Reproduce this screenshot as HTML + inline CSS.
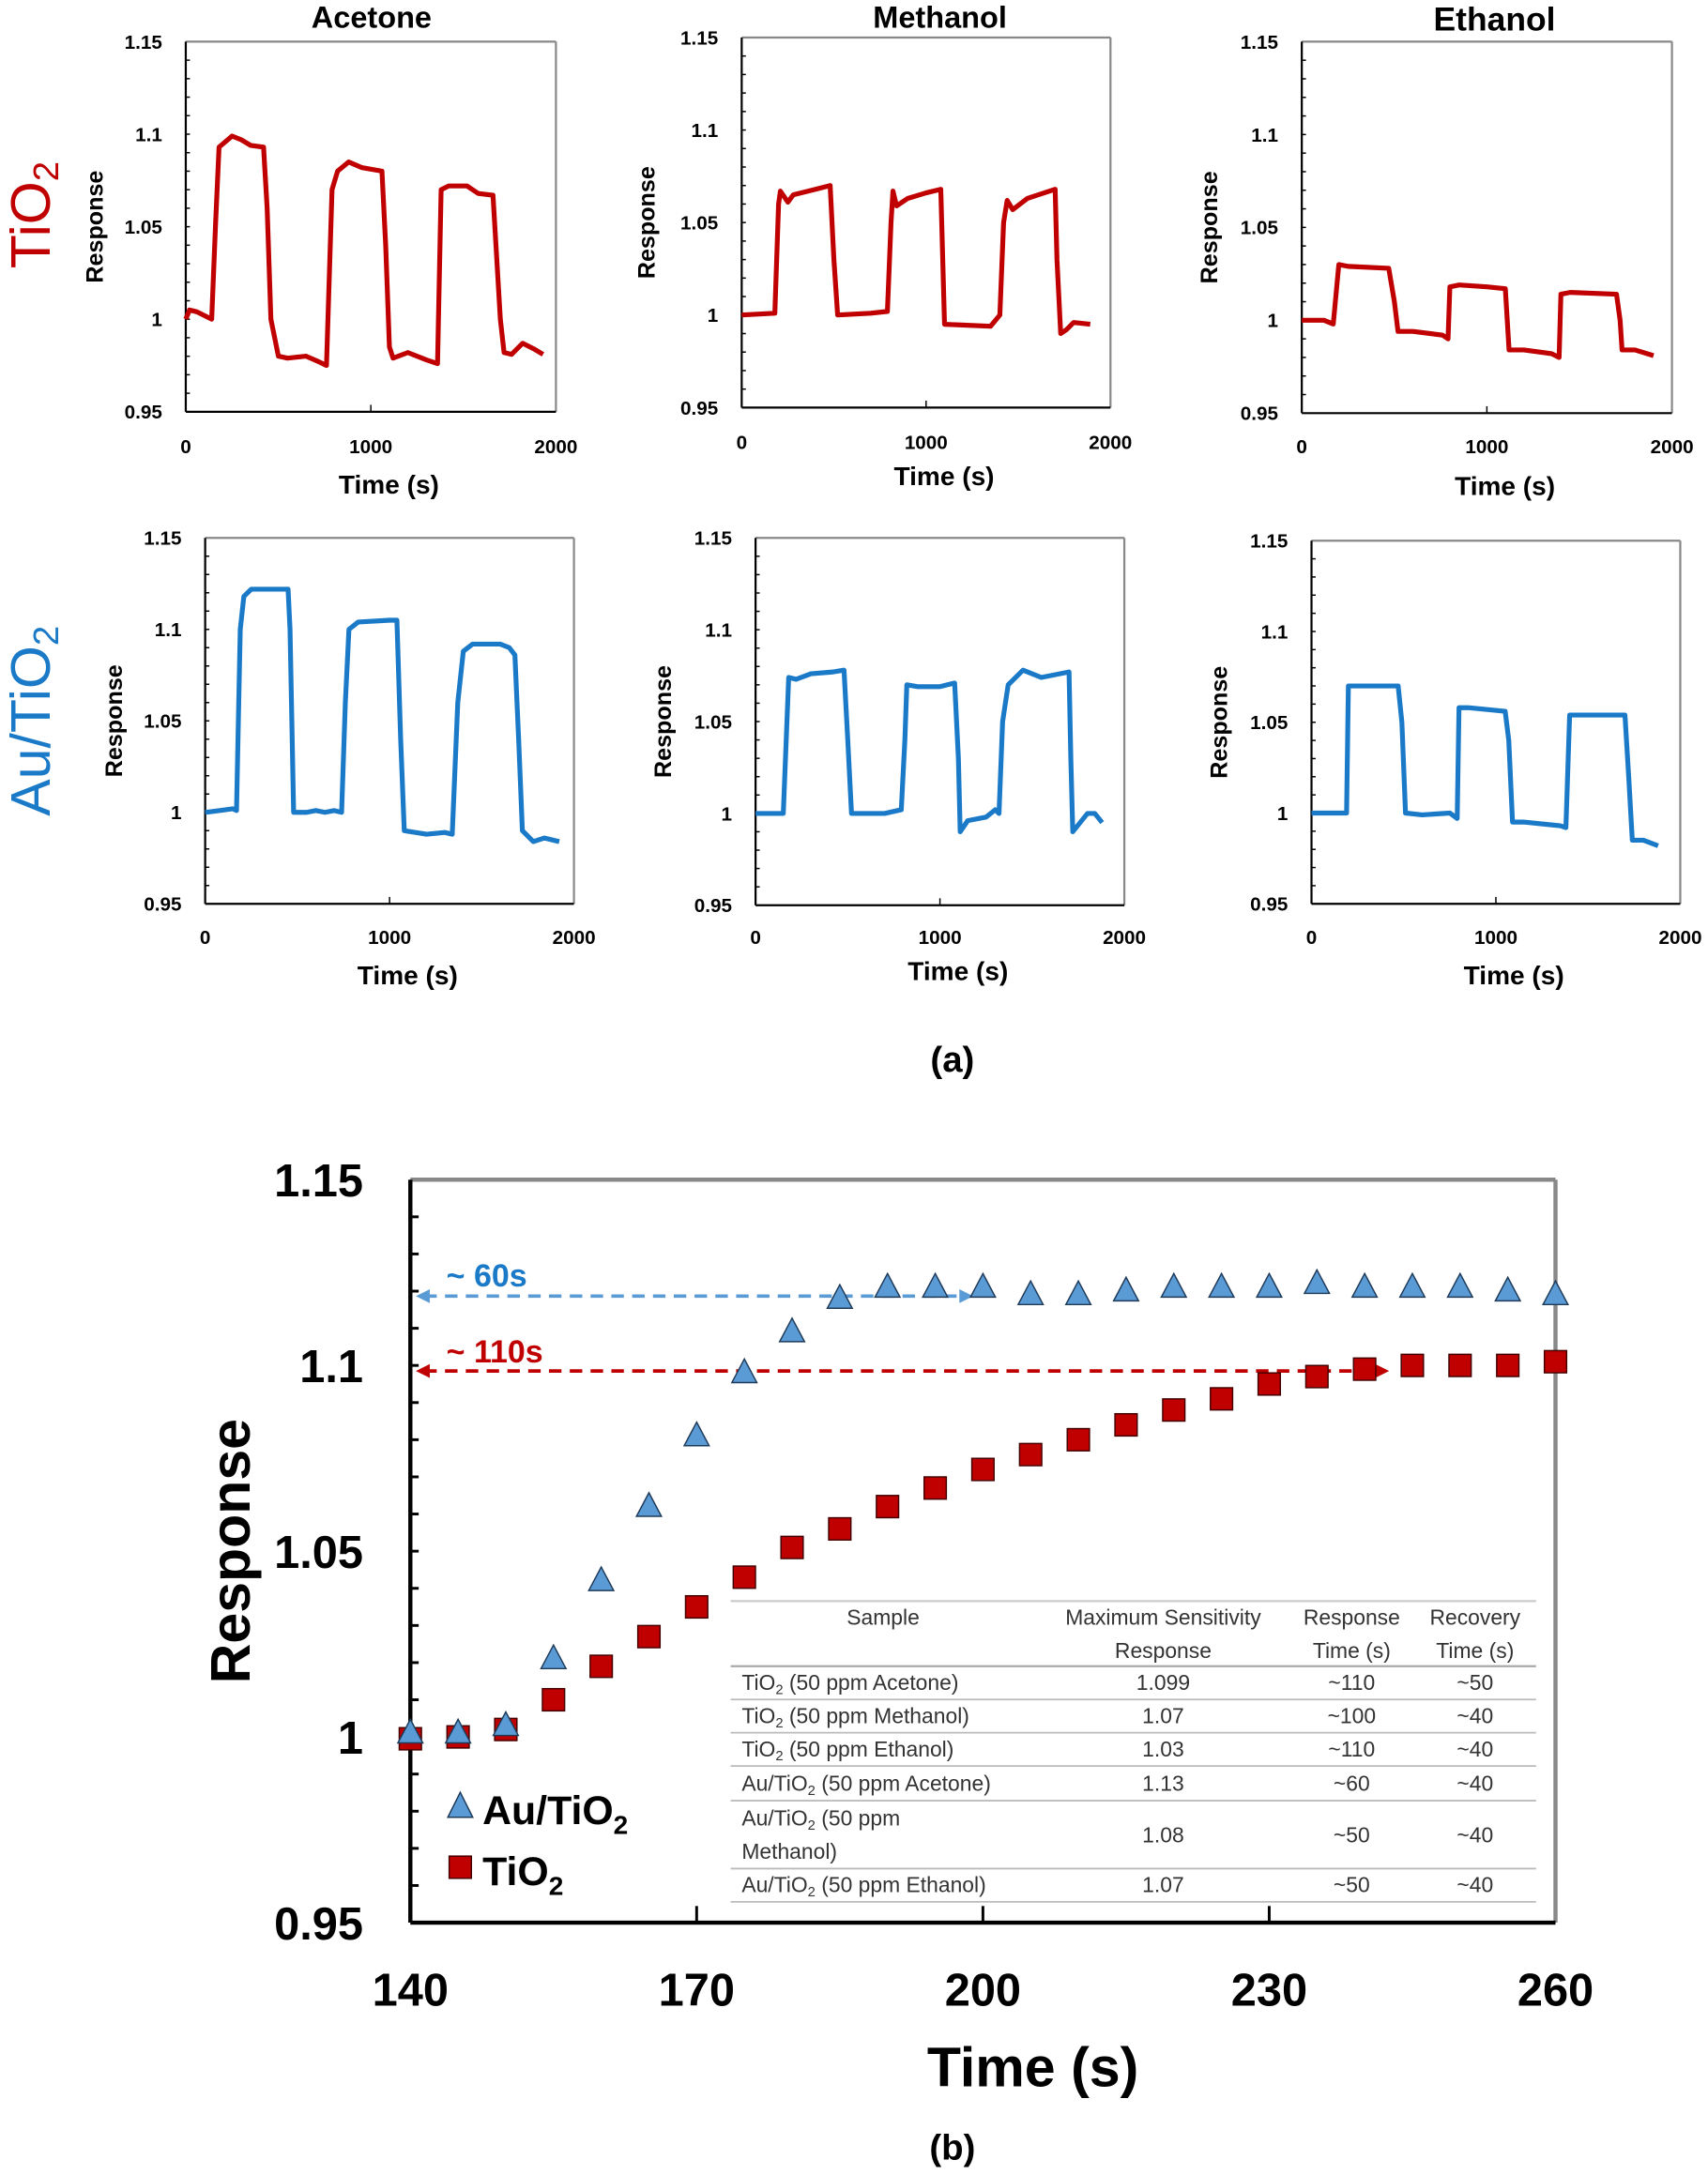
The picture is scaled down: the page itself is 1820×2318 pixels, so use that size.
<!DOCTYPE html>
<html><head><meta charset="utf-8">
<style>
html,body{margin:0;padding:0;background:#fff;}
svg{display:block;font-family:"Liberation Sans",sans-serif;}
</style></head>
<body>
<svg id="s" width="1820" height="2318" viewBox="0 0 1232 1569" xmlns="http://www.w3.org/2000/svg">
<rect width="1232" height="1569" fill="#fff"/>
<g font-weight="bold" text-anchor="middle" fill="#000">
<text x="268" y="20" font-size="22">Acetone</text>
<text x="678" y="20" font-size="22">Methanol</text>
<text x="1078" y="22" font-size="24">Ethanol</text>
<text x="687" y="773" font-size="26">(a)</text>
<text x="687" y="1558" font-size="26">(b)</text>
</g>
<text transform="translate(36,155) rotate(-90)" text-anchor="middle" font-size="40" fill="#c00000">TiO<tspan font-size="26" dy="6">2</tspan></text>
<text transform="translate(36,520) rotate(-90)" text-anchor="middle" font-size="40" fill="#1b7ac8">Au/TiO<tspan font-size="26" dy="6">2</tspan></text>
<g id="plots"></g>
</svg>
<script>
var NS="http://www.w3.org/2000/svg",g=document.getElementById('plots');
var html='';
function panel(x0,x1,yt,yb,color,data,xlY,tY,rX){
 var X=function(v){return x0+(x1-x0)*v/2000},Y=function(v){return yb-(yb-yt)*(v-0.95)/0.2};
 var s='';
 s+='<line x1="'+x0+'" y1="'+yt+'" x2="'+x1+'" y2="'+yt+'" stroke="#888" stroke-width="1.5"/>';
 s+='<line x1="'+x1+'" y1="'+yt+'" x2="'+x1+'" y2="'+yb+'" stroke="#888" stroke-width="1.5"/>';
 s+='<line x1="'+x0+'" y1="'+yt+'" x2="'+x0+'" y2="'+yb+'" stroke="#000" stroke-width="1.5"/>';
 s+='<line x1="'+x0+'" y1="'+yb+'" x2="'+x1+'" y2="'+yb+'" stroke="#000" stroke-width="1.5"/>';
 for(var i=1;i<20;i++){var yy=Y(0.95+i*0.01);s+='<line x1="'+x0+'" y1="'+yy+'" x2="'+(x0+3)+'" y2="'+yy+'" stroke="#000"/>';}
 var xm=X(1000);s+='<line x1="'+xm+'" y1="'+yb+'" x2="'+xm+'" y2="'+(yb-5)+'" stroke="#000"/>';
 var lab=['0.95','1','1.05','1.1','1.15'];
 for(var i=0;i<5;i++){s+='<text x="'+(x0-17)+'" y="'+(Y(0.95+i*0.05)+5)+'" text-anchor="end" font-size="14" font-weight="bold">'+lab[i]+'</text>';}
 ['0','1000','2000'].forEach(function(t,i){s+='<text x="'+X(i*1000)+'" y="'+xlY+'" text-anchor="middle" font-size="14" font-weight="bold">'+t+'</text>';});
 s+='<text x="'+((x0+x1)/2+13)+'" y="'+tY+'" text-anchor="middle" font-size="19" font-weight="bold">Time (s)</text>';
 s+='<text transform="translate('+rX+','+((yt+yb)/2)+') rotate(-90)" text-anchor="middle" font-size="17" font-weight="bold">Response</text>';
 var p='';for(var i=0;i<data.length;i+=2){p+=(i?'L':'M')+X(data[i]).toFixed(1)+' '+Y(data[i+1]).toFixed(1);}
 s+='<path d="'+p+'" fill="none" stroke="'+color+'" stroke-width="3.5" stroke-linejoin="round"/>';
 html+=s;
}
var R='#c00000',B='#1b7ac8';
panel(134,401,30,297,R,[0,1.0,20,1.005,60,1.004,140,1.0,160,1.05,180,1.093,250,1.099,300,1.097,350,1.094,420,1.093,440,1.06,460,1.0,500,0.98,550,0.979,650,0.98,720,0.977,760,0.975,790,1.07,820,1.08,880,1.085,950,1.082,1060,1.08,1080,1.04,1100,0.985,1120,0.979,1200,0.982,1300,0.978,1360,0.976,1380,1.07,1420,1.072,1520,1.072,1580,1.068,1660,1.067,1700,1.0,1720,0.982,1760,0.981,1820,0.987,1880,0.984,1930,0.981],327,356,74);
panel(535,801,27,294,R,[0,1.0,180,1.001,200,1.06,210,1.067,250,1.061,280,1.065,400,1.068,480,1.07,500,1.03,520,1.0,700,1.001,790,1.002,810,1.05,820,1.067,840,1.059,900,1.063,1000,1.066,1080,1.068,1100,0.995,1350,0.994,1400,1.0,1420,1.05,1440,1.062,1470,1.057,1550,1.063,1700,1.068,1710,1.03,1730,0.99,1760,0.992,1800,0.996,1890,0.995],324,350,472);
panel(939,1206,30,298,R,[0,1.0,120,1.0,170,0.998,200,1.03,250,1.029,470,1.028,500,1.01,520,0.994,600,0.994,760,0.992,790,0.99,800,1.018,850,1.019,1000,1.018,1100,1.017,1110,1.0,1120,0.984,1200,0.984,1350,0.982,1390,0.98,1400,1.014,1450,1.015,1700,1.014,1720,1.0,1730,0.984,1800,0.984,1900,0.981],327,357,878);
panel(148,414,388,652,B,[0,1.0,80,1.001,150,1.002,170,1.001,190,1.1,210,1.118,250,1.122,450,1.122,460,1.1,480,1.0,550,1.0,600,1.001,650,1.0,700,1.001,740,1.0,760,1.06,780,1.1,830,1.104,1000,1.105,1040,1.105,1060,1.04,1080,0.99,1200,0.988,1300,0.989,1340,0.988,1370,1.06,1400,1.088,1450,1.092,1600,1.092,1650,1.09,1680,1.086,1700,1.04,1720,0.99,1780,0.984,1840,0.986,1920,0.984],681,710,88);
panel(545,811,388,653,B,[0,1.0,150,1.0,180,1.074,220,1.073,300,1.076,420,1.077,480,1.078,500,1.04,520,1.0,600,1.0,700,1.0,790,1.002,810,1.04,820,1.07,880,1.069,1000,1.069,1080,1.071,1100,1.03,1110,0.99,1150,0.996,1250,0.998,1300,1.002,1320,1.0,1340,1.05,1370,1.07,1450,1.078,1550,1.074,1700,1.077,1710,1.03,1720,0.99,1760,0.995,1800,1.0,1840,1.0,1880,0.995],681,707,484);
panel(946,1212,390,652,B,[0,1.0,150,1.0,190,1.0,200,1.07,250,1.07,470,1.07,490,1.05,510,1.0,600,0.999,750,1.0,790,0.997,800,1.058,850,1.058,1050,1.056,1070,1.04,1090,0.995,1150,0.995,1350,0.993,1380,0.992,1400,1.054,1700,1.054,1720,1.02,1740,0.985,1800,0.985,1880,0.982],681,710,885);

// panel b
var x0=296,x1=1122,yt=851,yb=1387;
var X=function(v){return x0+(x1-x0)*(v-140)/120},Y=function(v){return yb-(yb-yt)*(v-0.95)/0.2};
var s='';
s+='<line x1="'+x0+'" y1="'+yt+'" x2="'+x1+'" y2="'+yt+'" stroke="#888" stroke-width="3"/>';
s+='<line x1="'+x1+'" y1="'+yt+'" x2="'+x1+'" y2="'+yb+'" stroke="#888" stroke-width="3"/>';
s+='<line x1="'+x0+'" y1="'+yt+'" x2="'+x0+'" y2="'+yb+'" stroke="#000" stroke-width="3"/>';
s+='<line x1="'+x0+'" y1="'+yb+'" x2="'+x1+'" y2="'+yb+'" stroke="#000" stroke-width="3"/>';
for(var i=1;i<20;i++){var yy=Y(0.95+i*0.01);s+='<line x1="'+x0+'" y1="'+yy+'" x2="'+(x0+6)+'" y2="'+yy+'" stroke="#000" stroke-width="2"/>';}
[170,200,230].forEach(function(t){s+='<line x1="'+X(t)+'" y1="'+yb+'" x2="'+X(t)+'" y2="'+(yb-12)+'" stroke="#000" stroke-width="2"/>';});
['0.95','1','1.05','1.1','1.15'].forEach(function(t,i){s+='<text x="262" y="'+(Y(0.95+i*0.05)+12)+'" text-anchor="end" font-size="33" font-weight="bold">'+t+'</text>';});
[140,170,200,230,260].forEach(function(t){s+='<text x="'+X(t)+'" y="1447" text-anchor="middle" font-size="33" font-weight="bold">'+t+'</text>';});
s+='<text x="745" y="1505" text-anchor="middle" font-size="40" font-weight="bold">Time (s)</text>';
s+='<text transform="translate(180,1119) rotate(-90)" text-anchor="middle" font-size="40" font-weight="bold">Response</text>';
// arrows
s+='<line x1="306" y1="935" x2="690" y2="935" stroke="#5b9bd5" stroke-width="2.5" stroke-dasharray="9,6"/>';
s+='<path d="M300 935 L310 930 L310 940Z M702 935 L692 930 L692 940Z" fill="#5b9bd5"/>';
s+='<text x="322" y="928" font-size="23" font-weight="bold" fill="#1b7ac8">~ 60s</text>';
s+='<line x1="306" y1="989" x2="990" y2="989" stroke="#c00000" stroke-width="2.5" stroke-dasharray="9,6"/>';
s+='<path d="M300 989 L310 984 L310 994Z M1002 989 L992 984 L992 994Z" fill="#c00000"/>';
s+='<text x="322" y="983" font-size="23" font-weight="bold" fill="#c00000">~ 110s</text>';
// table
var tl=['<line x1="527" x2="1108" y1="1155" y2="1155" stroke="#ccc" stroke-width="1.5"/>','<line x1="527" x2="1108" y1="1202" y2="1202" stroke="#aaa" stroke-width="1.5"/>'];
[1226,1250,1274,1299,1348,1372].forEach(function(y){tl.push('<line x1="527" x2="1108" y1="'+y+'" y2="'+y+'" stroke="#bbb" stroke-width="1.2"/>');});
s+=tl.join('');
s+='<g font-size="15.5" fill="#333" text-anchor="middle"><text x="637" y="1172">Sample</text><text x="839" y="1172">Maximum Sensitivity</text><text x="839" y="1196">Response</text><text x="975" y="1172">Response</text><text x="975" y="1196">Time (s)</text><text x="1064" y="1172">Recovery</text><text x="1064" y="1196">Time (s)</text></g>';
var rows=[['TiO','(50 ppm Acetone)','1.099','~110','~50',1219],['TiO','(50 ppm Methanol)','1.07','~100','~40',1243],['TiO','(50 ppm Ethanol)','1.03','~110','~40',1267],['Au/TiO','(50 ppm Acetone)','1.13','~60','~40',1292],['Au/TiO','(50 ppm','1.08','~50','~40',1317],['Au/TiO','(50 ppm Ethanol)','1.07','~50','~40',1365]];
rows.forEach(function(r){
 var y=r[5],yc=(r[2]=='1.08')?1329:y;
 s+='<text x="535" y="'+y+'" font-size="15.5" fill="#333">'+r[0]+'<tspan font-size="10" dy="3">2</tspan><tspan dy="-3"> '+r[1]+'</tspan></text>';
 s+='<g font-size="15.5" fill="#333" text-anchor="middle"><text x="839" y="'+yc+'">'+r[2]+'</text><text x="975" y="'+yc+'">'+r[3]+'</text><text x="1064" y="'+yc+'">'+r[4]+'</text></g>';
});
s+='<text x="535" y="1341" font-size="15.5" fill="#333">Methanol)</text>';
// data
var au=[1.001,1.001,1.003,1.021,1.042,1.062,1.081,1.098,1.109,1.118,1.121,1.121,1.121,1.119,1.119,1.12,1.121,1.121,1.121,1.122,1.121,1.121,1.121,1.12,1.119];
var ti=[0.9995,1.0,1.002,1.01,1.019,1.027,1.035,1.043,1.051,1.056,1.062,1.067,1.072,1.076,1.08,1.084,1.088,1.091,1.095,1.097,1.099,1.1,1.1,1.1,1.101];
for(var i=0;i<25;i++){var x=X(140+5*i);
 var y=Y(ti[i]);s+='<rect x="'+(x-8)+'" y="'+(y-8)+'" width="16" height="16" fill="#c00000" stroke="#400" stroke-width="1"/>';
 y=Y(au[i]);s+='<path d="M'+x+' '+(y-10)+' L'+(x+9)+' '+(y+7)+' L'+(x-9)+' '+(y+7)+'Z" fill="#5b9bd5" stroke="#1f3b5a" stroke-width="1"/>';
}
// legend
s+='<path d="M332 1293 L341 1311 L323 1311Z" fill="#5b9bd5" stroke="#1f3b5a"/>';
s+='<text x="348" y="1316" font-size="29" font-weight="bold">Au/TiO<tspan font-size="19" dy="7">2</tspan></text>';
s+='<rect x="324" y="1339" width="16" height="16" fill="#c00000" stroke="#400"/>';
s+='<text x="348" y="1360" font-size="29" font-weight="bold">TiO<tspan font-size="19" dy="7">2</tspan></text>';
html+=s;
g.innerHTML=html;
</script>
</body></html>
